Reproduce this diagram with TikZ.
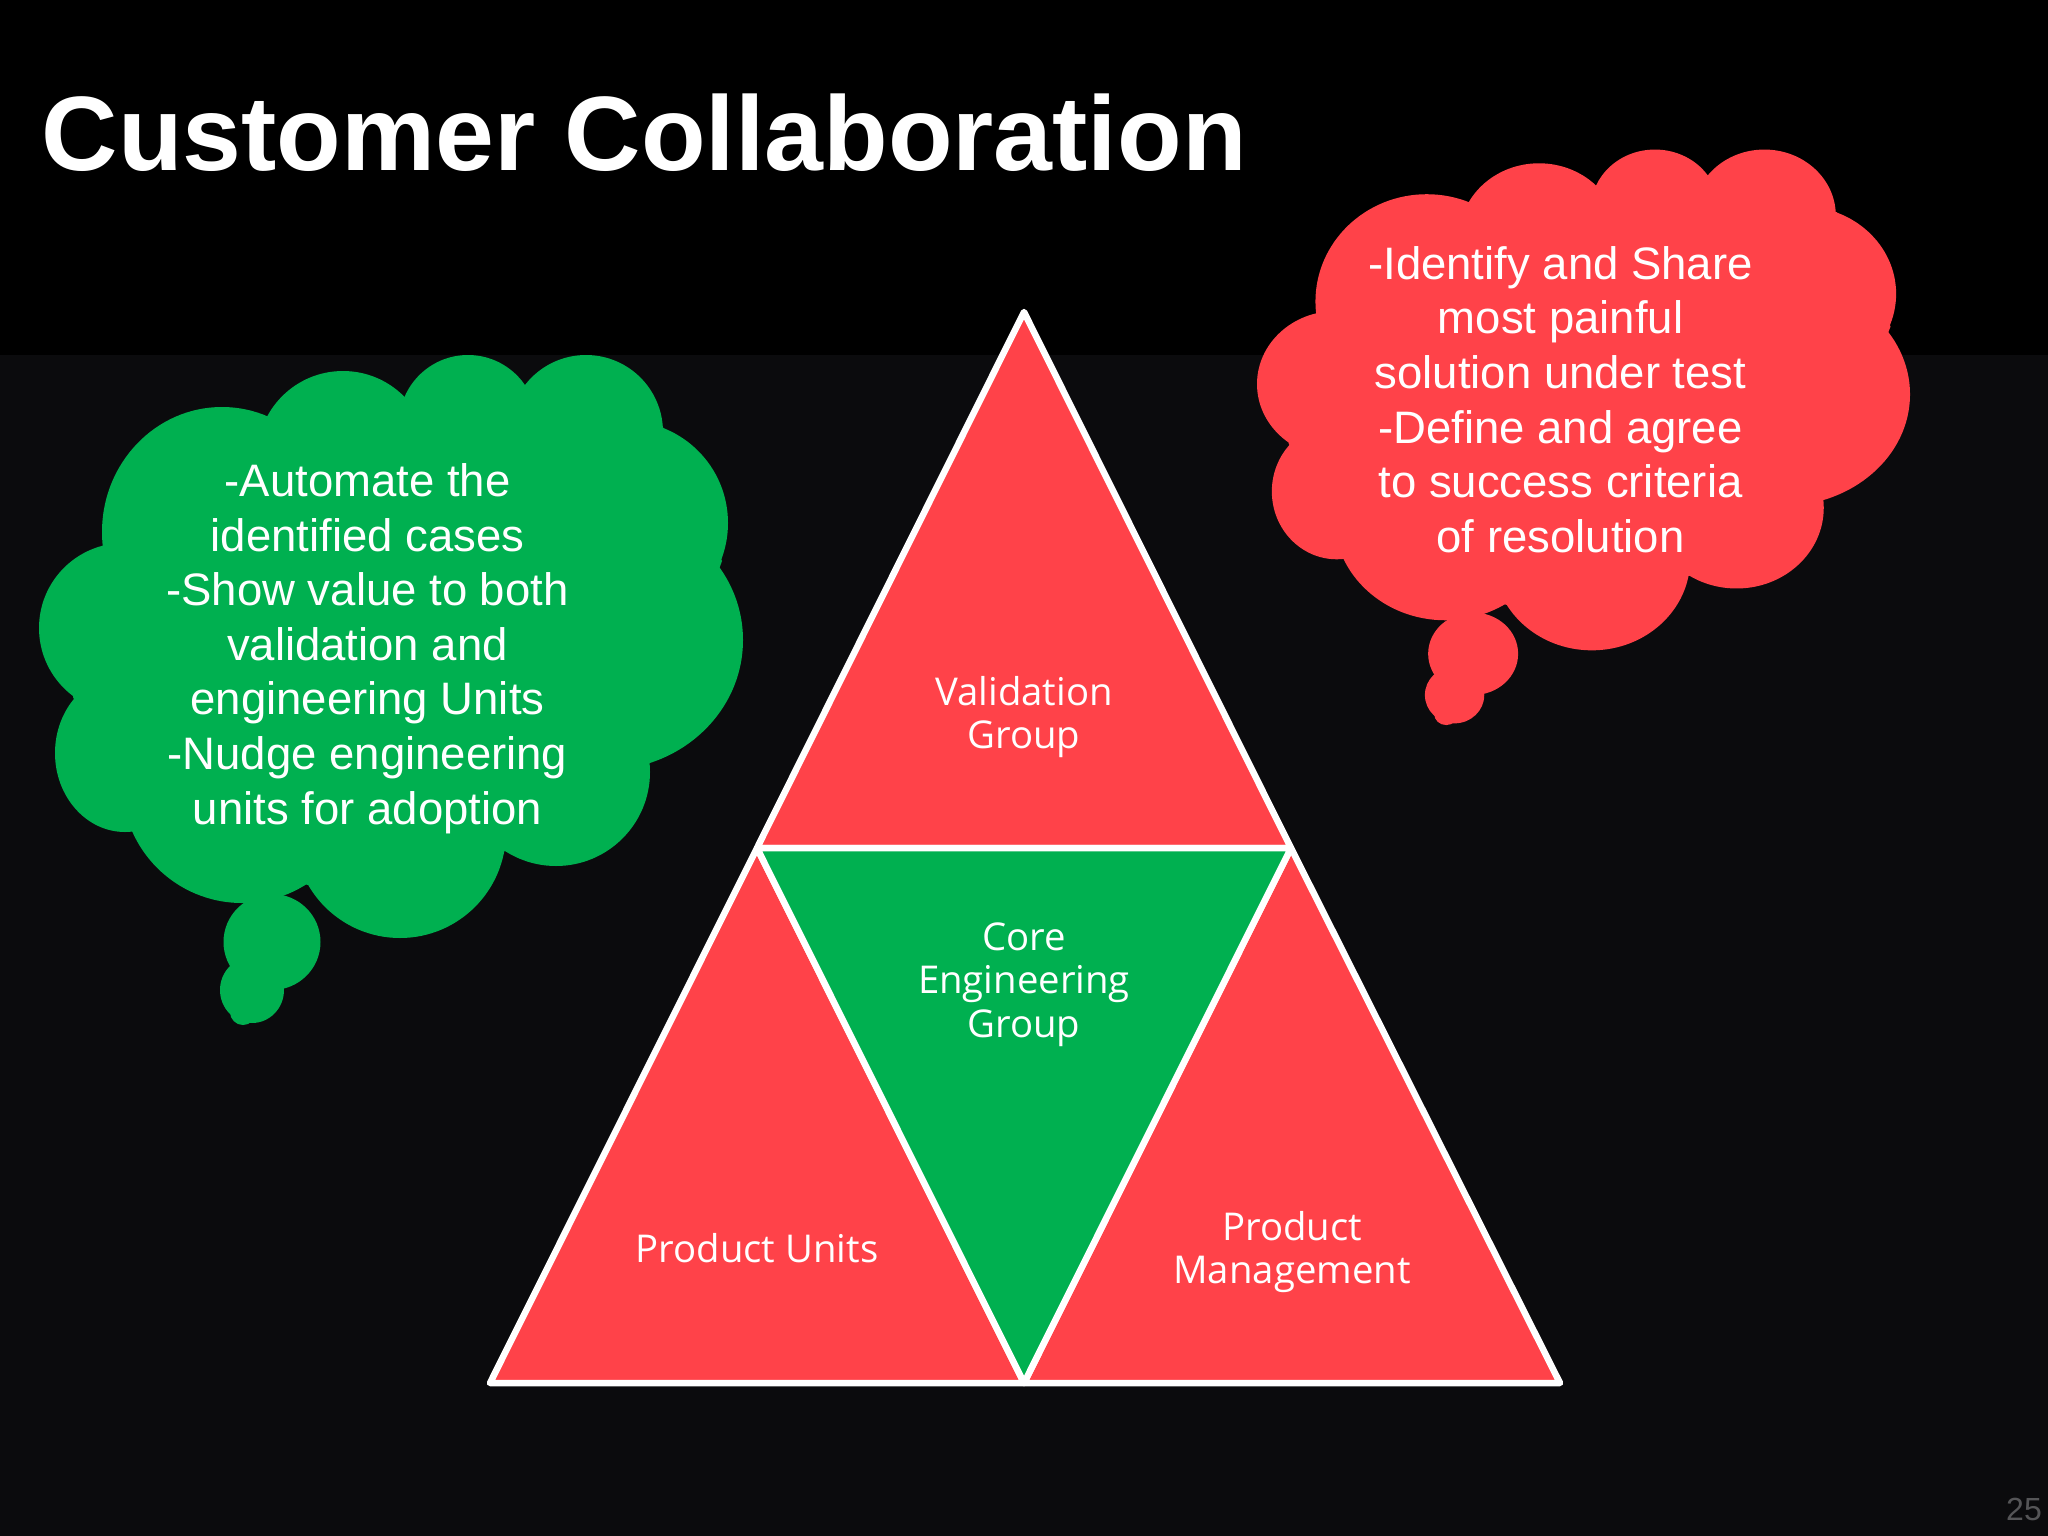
\documentclass[tikz,border=0pt]{standalone}
\usepackage{fontspec}
\setmainfont{Liberation Sans}
\newfontfamily\labelfont{Open Sans}
\definecolor{redfill}{HTML}{FF4249}
\definecolor{greenfill}{HTML}{00B050}
\definecolor{lowbg}{HTML}{0B0B0D}
\definecolor{pagenum}{HTML}{555557}
\newcommand{\cloudshape}{%
  \fill (104,548) -- (268,423) -- (406,398) -- (526,385) -- (664,428) -- (722,561) -- (650,760) -- (506,851) -- (308,885) -- (136,831) -- (73,697) -- cycle;
  \fill (222,532) ellipse [x radius=120,y radius=125];
  \fill (343,457) circle [radius=86];
  \fill (468,424) circle [radius=69];
  \fill (586,432) circle [radius=77];
  \fill (626,523) circle [radius=102];
  \fill (605,640) ellipse [x radius=138,y radius=130];
  \fill (556,772) circle [radius=94];
  \fill (400,832) circle [radius=106];
  \fill (242,783) circle [radius=120];
  \fill (125,753) ellipse [x radius=70,y radius=79];
  \fill (124,628) circle [radius=85];
  \fill (272,942) ellipse [x radius=48.5,y radius=48];
  \fill (252,990) ellipse [x radius=32,y radius=33];
  \fill (243,1012) circle [radius=13];
}
\tikzset{
  tri/.style={draw=white,line width=6.5pt,line join=round},
  bubbletext/.style={text=white,align=center,font=\fontsize{45.5}{54.6}\selectfont,inner sep=0pt},
  trilabel/.style={text=white,align=center,font=\labelfont\fontsize{38.3}{43.5}\selectfont,inner sep=0pt}
}
\begin{document}
\begin{tikzpicture}[x=1pt,y=-1pt]
\useasboundingbox (0,0) rectangle (2048,1536);
\fill[lowbg] (0,355) rectangle (2048,1536);
\fill[black] (0,0) rectangle (2048,355);
\node[anchor=base west,text=white,inner sep=0pt,font=\bfseries\fontsize{105.8}{105.8}\selectfont] (title) at (41.5,170.5) {Customer Collaboration};
\begin{scope}[greenfill]
\cloudshape
\end{scope}
\begin{scope}[redfill,shift={(1220.82,-155.4)},xscale=0.9276,yscale=0.859]
\cloudshape
\end{scope}
\node[bubbletext] (gtext) at (367.5,648.5) {-Automate the\\identified cases\\-Show value to both\\validation and\\engineering Units\\-Nudge engineering\\units for adoption};
\node[bubbletext] (rtext) at (1560.5,399.5) {-Identify and Share\\most painful\\solution under test\\-Define and agree\\to success criteria\\of resolution};
\coordinate (apex) at (1024,312);
\coordinate (ml) at (757,848);
\coordinate (mr) at (1291,848);
\coordinate (bl) at (490,1383);
\coordinate (br) at (1560,1383);
\coordinate (bm) at (1024,1383);
\draw[tri,fill=redfill] (apex) -- (mr) -- (ml) -- cycle;
\draw[tri,fill=redfill] (ml) -- (bm) -- (bl) -- cycle;
\draw[tri,fill=redfill] (mr) -- (br) -- (bm) -- cycle;
\draw[tri,fill=greenfill] (ml) -- (mr) -- (bm) -- cycle;
\node[trilabel] (vg) at (1024,717) {Validation\\Group};
\node[trilabel] (ce) at (1024,984.5) {Core\\Engineering\\Group};
\node[trilabel] (pu) at (757,1248) {Product Units};
\node[trilabel] (pm) at (1292,1252) {Product\\Management};
\node[anchor=base east,text=pagenum,inner sep=0pt,font=\fontsize{32}{32}\selectfont] (pn) at (2042,1520) {25};
\end{tikzpicture}
\end{document}
